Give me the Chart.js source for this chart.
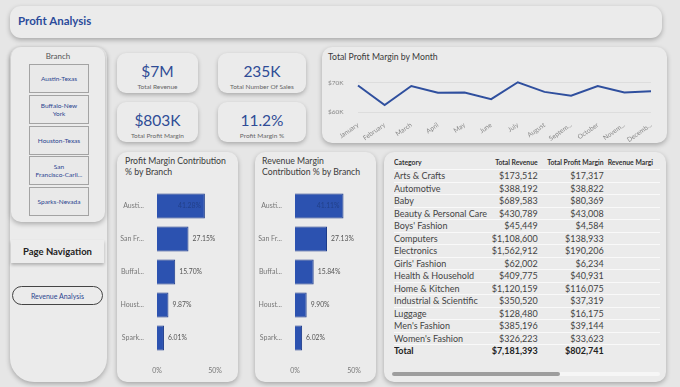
<!DOCTYPE html>
<html>
<head>
<meta charset="utf-8">
<script src="https://cdn.jsdelivr.net/npm/chart.js@4.4.0/dist/chart.umd.min.js"></script>
<style>
  body { margin: 0; width: 680px; height: 387px; background: #e6e6e6; position: relative; overflow: hidden; font-family: Lato, "Open Sans", sans-serif; }
  .panel { position: absolute; background: #ebebeb; border-radius: 10px; box-shadow: 0 2px 5px rgba(0,0,0,0.28); }
  .title { position: absolute; font-size: 8.7px; color: #3a3a3a; line-height: 11px; }
  .kpi { position: absolute; background: #ebebeb; border-radius: 9px; box-shadow: 0 2px 4px rgba(0,0,0,0.25); text-align: center; }
  .kpi .v { position: absolute; left: 0; right: 0; font-size: 15.5px; color: #2f4c96; }
  .kpi .l { position: absolute; left: 0; right: 0; font-size: 6.5px; color: #666; }
  .btn { position: absolute; left: 29px; width: 58px; height: 27px; border: 1px solid #a3a3a3; background: #e9e9e9;
         display: flex; align-items: center; justify-content: center; text-align: center; font-size: 6.5px; color: #2b4590; line-height: 8px; }
  canvas { position: absolute; }
  #tbl { position: absolute; left: 394px; top: 156px; width: 266px; overflow: hidden; }
  table { border-collapse: collapse; white-space: nowrap; table-layout: fixed; }
  td, th { padding: 0; height: 11.5px; line-height: 11.5px; font-size: 9px; color: #444; }
  th { font-size: 6.8px; color: #333; font-weight: 700; height: 13px; line-height: 13px; vertical-align: middle; }
  tr.body td { border-top: 1px solid rgba(255,255,255,0.7); }
  tr.total td { border-top: 1px solid rgba(255,255,255,0.7); font-weight: 700; color: #222; }
  .r { text-align: right; }
</style>
</head>
<body>

<div class="panel" style="left:10px;top:6px;width:652px;height:32px;border-radius:11px;"></div>
<div style="position:absolute;left:18px;top:14px;font-size:11.5px;font-weight:700;color:#2b4b9b;">Profit Analysis</div>

<!-- left column -->
<div class="panel" style="left:10px;top:47px;width:97px;height:335px;border-radius:10px 10px 24px 24px;"></div>
<div class="panel" style="left:11px;top:47px;width:94px;height:175px;"></div>
<div style="position:absolute;left:11px;top:51px;width:94px;text-align:center;font-size:8px;color:#555;">Branch</div>
<div id="slicer"></div>
<div style="position:absolute;left:11px;top:240px;width:93px;height:23px;background:#ececec;box-shadow:0 2px 3px rgba(0,0,0,0.25);
            display:flex;align-items:center;justify-content:center;font-size:9.5px;font-weight:700;color:#222;">Page Navigation</div>
<div style="position:absolute;left:12px;top:286px;width:89px;height:17px;border:1.5px solid #444;border-radius:10px;
            display:flex;align-items:center;justify-content:center;font-size:7px;color:#2b4590;">Revenue Analysis</div>

<!-- kpi cards -->
<div id="kpis"></div>

<!-- line chart -->
<div class="panel" style="left:322px;top:47px;width:345px;height:96px;"></div>
<div class="title" style="left:328px;top:51px;">Total Profit Margin by Month</div>
<canvas id="line-chart" width="345" height="80" style="left:322px;top:62px;"></canvas>

<!-- bar charts -->
<div class="panel" style="left:117px;top:152px;width:121px;height:230px;"></div>
<div class="title" style="left:125px;top:155px;">Profit Margin Contribution<br>% by Branch</div>
<canvas id="profit-chart" width="121" height="200" style="left:117px;top:180px;"></canvas>

<div class="panel" style="left:255px;top:152px;width:121px;height:230px;"></div>
<div class="title" style="left:262px;top:155px;">Revenue Margin<br>Contribution % by Branch</div>
<canvas id="revenue-chart" width="121" height="200" style="left:255px;top:180px;"></canvas>

<!-- table -->
<div class="panel" style="left:384px;top:152px;width:282px;height:230px;"></div>
<div id="tbl"></div>
<div style="position:absolute;left:392px;top:372px;width:268px;height:4px;background:#f6f6f6;border-radius:2px;"></div>
<div style="position:absolute;left:392px;top:372px;width:168px;height:4px;background:#9d9d9d;border-radius:2px;"></div>

<script>
// data
const branchNames = ['Austin-Texas', 'Buffalo-New York', 'Houston-Texas', 'San Francisco-Carli...', 'Sparks-Nevada'];

const kpiLabels = ['Total Revenue', 'Total Number Of Sales', 'Total Profit Margin', 'Profit Margin %'];
const kpiValues = ['$7M', '235K', '$803K', '11.2%'];

const months = ['January', 'February', 'March', 'April', 'May', 'June', 'July', 'August', 'Septem...', 'October', 'Novem...', 'Decemb...'];
const monthlyProfit = [69100, 62400, 68900, 66600, 66700, 64400, 70200, 66900, 65600, 68900, 66700, 67100];
const profitTicks = [60000, 70000];

const branchShort = ['Austi...', 'San Fr...', 'Buffal...', 'Houst...', 'Spark...'];
const profitShare = [41.28, 27.15, 15.70, 9.87, 6.01];
const revenueShare = [41.11, 27.13, 15.84, 9.90, 6.02];
const shareTicks = [0, 50];

const tableHeaders = ['Category', 'Total Revenue', 'Total Profit Margin', 'Revenue Margi'];
const categories = ['Arts & Crafts', 'Automotive', 'Baby', 'Beauty & Personal Care', "Boys' Fashion", 'Computers', 'Electronics',
    "Girls' Fashion", 'Health & Household', 'Home & Kitchen', 'Industrial & Scientific', 'Luggage', "Men's Fashion", "Women's Fashion"];
const categoryRevenue = ['$173,512', '$388,192', '$689,583', '$430,789', '$45,449', '$1,108,600', '$1,562,912',
    '$62,002', '$409,775', '$1,120,159', '$350,520', '$128,480', '$385,196', '$326,223'];
const categoryProfit = ['$17,317', '$38,822', '$80,369', '$43,008', '$4,584', '$138,933', '$190,206',
    '$6,234', '$40,931', '$116,075', '$37,319', '$16,175', '$39,144', '$33,623'];
const totalRevenue = '$7,181,393';
const totalProfit = '$802,741';

// branch slicer buttons
const buttonTops = [64, 95, 126, 156, 187];
document.querySelector('#slicer').innerHTML = branchNames.map((name, i) => {
    const label = name.replace('-New ', '-New<br>').replace('San Francisco', 'San<br>Francisco');
    return `<div class="btn" style="top:${buttonTops[i]}px">${label}</div>`;
}).join('');

// kpi cards
const kpiBoxes = [[117, 53, 81], [218, 53, 88], [117, 102, 81], [218, 102, 88]];
document.querySelector('#kpis').innerHTML = kpiValues.map((v, i) => {
    const [x, y, w] = kpiBoxes[i];
    return `<div class="kpi" style="left:${x}px;top:${y}px;width:${w}px;height:40px;">
        <div class="v" style="top:9px">${v}</div><div class="l" style="top:30px">${kpiLabels[i]}</div></div>`;
}).join('');

// table
let html = '<table><colgroup><col style="width:90px"><col style="width:53px"><col style="width:71px"><col style="width:60px"></colgroup>';
html += '<tr><th style="text-align:left">' + tableHeaders[0] + '</th><th class="r">' + tableHeaders[1] + '</th><th class="r">' +
    tableHeaders[2] + '</th><th style="text-align:left;padding-left:4px">' + tableHeaders[3] + '</th></tr>';
categories.forEach((c, i) => {
    html += `<tr class="body"><td>${c}</td><td class="r">${categoryRevenue[i]}</td><td class="r">${categoryProfit[i]}</td><td></td></tr>`;
});
html += `<tr class="total"><td>Total</td><td class="r">${totalRevenue}</td><td class="r">${totalProfit}</td><td></td></tr></table>`;
document.querySelector('#tbl').innerHTML = html;

// value labels next to the bars
const barLabels = {
    id: 'barLabels',
    afterDatasetsDraw(chart) {
        const ctx = chart.ctx;
        const values = chart.data.datasets[0].data;
        ctx.save();
        ctx.font = '6.8px Lato';
        ctx.textBaseline = 'middle';
        chart.getDatasetMeta(0).data.forEach((bar, i) => {
            const text = values[i].toFixed(2) + '%';
            if (i === 0) {
                ctx.fillStyle = '#22408a';
                ctx.textAlign = 'right';
                ctx.fillText(text, bar.x - 4, bar.y);
            } else {
                ctx.fillStyle = '#555';
                ctx.textAlign = 'left';
                ctx.fillText(text, bar.x + 4, bar.y);
            }
        });
        ctx.restore();
    }
};

function barChart(canvas, values, rightPad) {
    return new Chart(canvas.getContext('2d'), {
        type: 'bar',
        data: {
            labels: branchShort,
            datasets: [{
                data: values,
                backgroundColor: '#2c52b0',
                borderColor: '#1d3b8a',
                borderWidth: 1,
                categoryPercentage: 0.76,
                barPercentage: 1
            }]
        },
        options: {
            indexAxis: 'y',
            responsive: false,
            animation: false,
            layout: { padding: { top: 9.5, right: rightPad } },
            plugins: { legend: { display: false }, tooltip: { enabled: false } },
            scales: {
                x: {
                    min: shareTicks[0], max: shareTicks[1],
                    afterBuildTicks: axis => { axis.ticks = shareTicks.map(value => ({ value })); },
                    grid: { display: false }, border: { display: false },
                    ticks: { callback: v => v + '%', color: '#777', font: { family: 'Lato', size: 7 }, padding: 4, maxRotation: 0 },
                    afterFit: s => { s.height = 25.5; }
                },
                y: {
                    grid: { display: false }, border: { display: false },
                    ticks: { color: '#777', font: { family: 'Lato', size: 7 }, padding: 5 },
                    afterFit: s => { s.width = 40; }
                }
            }
        },
        plugins: [barLabels]
    });
}

barChart(document.querySelector('#profit-chart'), profitShare, 23);
barChart(document.querySelector('#revenue-chart'), revenueShare, 22);

// monthly profit line
new Chart(document.querySelector('#line-chart').getContext('2d'), {
    type: 'line',
    data: {
        labels: months,
        datasets: [{
            data: monthlyProfit,
            borderColor: '#2f4f9e',
            borderWidth: 2,
            pointRadius: 0,
            tension: 0
        }]
    },
    options: {
        responsive: false,
        animation: false,
        layout: { padding: { top: 15, right: 16, left: 6 } },
        plugins: { legend: { display: false }, tooltip: { enabled: false } },
        scales: {
            x: {
                grid: { display: false }, border: { display: false },
                ticks: { autoSkip: false, minRotation: 35, maxRotation: 35, color: '#888', font: { family: 'Lato', size: 6.5 }, padding: 1 },
                afterFit: s => { s.height = 30; }
            },
            y: {
                min: 60000, max: 72000,
                afterBuildTicks: axis => { axis.ticks = profitTicks.map(value => ({ value })); },
                grid: { color: 'rgba(0,0,0,0.06)', drawTicks: false }, border: { display: false },
                ticks: { callback: v => '$' + v / 1000 + 'K', color: '#888', font: { family: 'Lato', size: 6.5 }, crossAlign: 'far', padding: 0 },
                afterFit: s => { s.width = 30; }
            }
        }
    }
});
</script>
</body>
</html>
